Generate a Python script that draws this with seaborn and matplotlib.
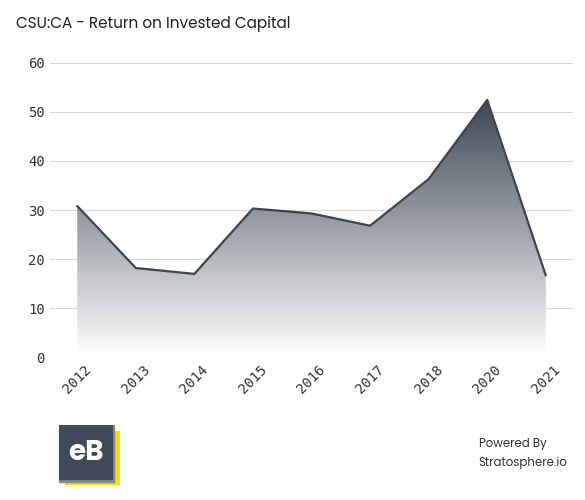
import matplotlib
matplotlib.use("Agg")
import matplotlib.pyplot as plt
import seaborn as sns
import numpy as np
import pandas as pd
from matplotlib.patches import Polygon, Rectangle

years = ["2012", "2013", "2014", "2015", "2016", "2017", "2018", "2020", "2021"]
roic = [30.8, 18.2, 17.0, 30.3, 29.3, 26.8, 36.3, 52.4, 16.7]
yticks = [0, 10, 20, 30, 40, 50, 60]

sns.set_theme(style="white")
plt.rcParams['font.family'] = ['Poppins', 'Roboto', 'DejaVu Sans']

fig = plt.figure(figsize=(5.85, 5.0), dpi=100)
ax = fig.add_axes([0.085, 0.285, 0.895, 0.59])
df = pd.DataFrame({"x": np.arange(len(years)), "y": roic})
sns.lineplot(data=df, x="x", y="y", ax=ax, color="#3d4450", linewidth=1.6)

ax.set_ylim(0, 60)
ax.set_xlim(-0.47, len(years) - 1 + 0.47)
x = df["x"].values
y = df["y"].values
verts = [(x[0], 0)] + list(zip(x, y)) + [(x[-1], 0)]
poly = Polygon(verts, closed=True, facecolor="none", edgecolor="none")
ax.add_patch(poly)
grad = np.linspace(0, 1, 256).reshape(-1, 1)
from matplotlib.colors import LinearSegmentedColormap
cmap = LinearSegmentedColormap.from_list("g", ["#ffffff", "#3d4654"])
im = ax.imshow(grad, extent=[x[0], x[-1], 0, max(y)], origin="lower", aspect="auto",
               cmap=cmap, zorder=1)
im.set_clip_path(poly)

ax.set_yticks(yticks)
ax.set_yticklabels([str(t) for t in yticks], family="DejaVu Sans Mono", fontsize=10, color="#333")
ax.set_xticks(x)
ax.set_xticklabels(years, rotation=45, family="DejaVu Sans Mono", fontsize=10, color="#333")
ax.yaxis.grid(True, color="#d8d8d8", linewidth=0.8)
ax.set_axisbelow(True)
for s in ax.spines.values():
    s.set_visible(False)
ax.tick_params(length=0)
ax.set_xlabel("")
ax.set_ylabel("")

fig.text(0.027, 0.945, "CSU:CA - Return on Invested Capital", fontsize=11, color="#222")

# logo
lax = fig.add_axes([0.1, 0.03, 0.105, 0.12])
lax.set_xlim(0, 1); lax.set_ylim(0, 1); lax.axis("off")
lax.add_patch(Rectangle((0.1, 0), 0.9, 0.9, color="#f2e200"))
lax.add_patch(Rectangle((0, 0.05), 0.9, 0.95, color="#8a8a8a"))
lax.add_patch(Rectangle((0, 0.1), 0.87, 0.9, color="#414a5a"))
lax.text(0.44, 0.52, "eB", color="white", fontsize=20, fontweight="bold", ha="center", va="center")

fig.text(0.818, 0.107, "Powered By", fontsize=8.5, color="#333")
fig.text(0.818, 0.068, "Stratosphere.io", fontsize=8.5, color="#333")

fig.savefig("out.png", dpi=100, facecolor="white")
